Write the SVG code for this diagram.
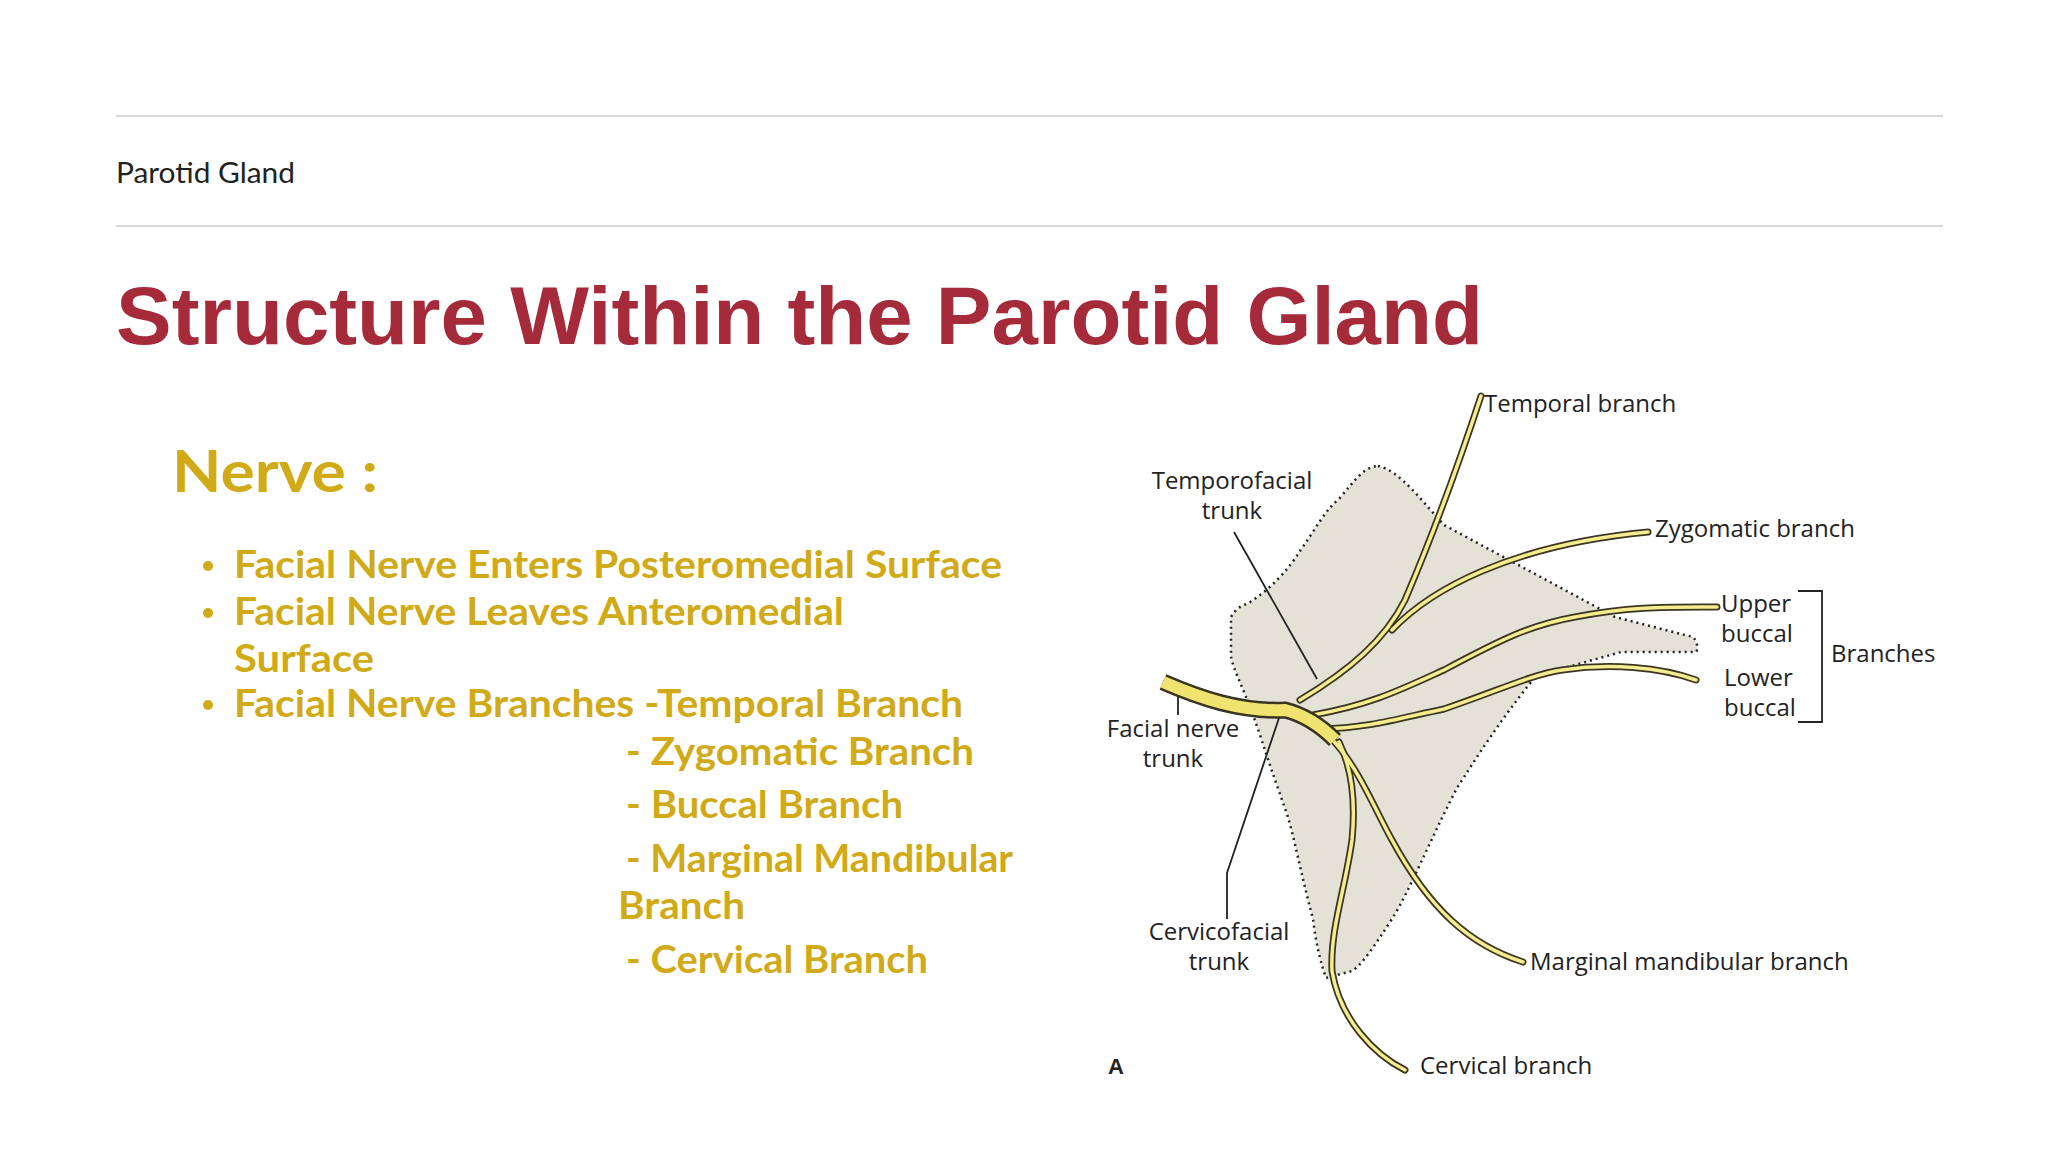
<svg xmlns="http://www.w3.org/2000/svg" width="2048" height="1152" viewBox="0 0 2048 1152">
<style>
.hdr{font-family:"Lato","Liberation Sans",sans-serif;font-size:28px;fill:#222}
.title{font-family:"Liberation Sans",sans-serif;font-weight:bold;font-size:82px;fill:#A52A3A}
.g{font-family:"Lato","Liberation Sans",sans-serif;font-weight:bold;fill:#D1AA17}
.b{font-size:38px}
.lbl{font-family:"Open Sans","Liberation Sans",sans-serif;font-size:24px;fill:#222}
.out{fill:none;stroke:#3a3520;stroke-width:7;stroke-linecap:round}
.in{fill:none;stroke:#F4EC8E;stroke-width:3.5;stroke-linecap:round}
.lead{fill:none;stroke:#222;stroke-width:1.8}
</style>
<rect width="2048" height="1152" fill="#fff"/>
<line x1="116" y1="116" x2="1943" y2="116" stroke="#ccc" stroke-width="1.5"/>
<text class="hdr" x="116" y="183" textLength="179" lengthAdjust="spacingAndGlyphs">Parotid Gland</text>
<line x1="116" y1="226" x2="1943" y2="226" stroke="#ccc" stroke-width="1.5"/>
<text class="title" x="116" y="344" textLength="1367" lengthAdjust="spacingAndGlyphs">Structure Within the Parotid Gland</text>
<g id="text">
<text class="g" x="172" y="492" font-size="58" textLength="206" lengthAdjust="spacingAndGlyphs">Nerve :</text>
<g class="g b">
<circle cx="208" cy="566" r="5" fill="#D1AA17"/><text x="234" y="578" textLength="768" lengthAdjust="spacingAndGlyphs">Facial Nerve Enters Posteromedial Surface</text>
<circle cx="208" cy="613" r="5" fill="#D1AA17"/><text x="234" y="625" textLength="610" lengthAdjust="spacingAndGlyphs">Facial Nerve Leaves Anteromedial</text>
<text x="234" y="672" textLength="140" lengthAdjust="spacingAndGlyphs">Surface</text>
<circle cx="208" cy="705" r="5" fill="#D1AA17"/><text x="234" y="717" textLength="729" lengthAdjust="spacingAndGlyphs">Facial Nerve Branches -Temporal Branch</text>
<text x="626" y="765" textLength="348" lengthAdjust="spacingAndGlyphs">- Zygomatic Branch</text>
<text x="626" y="818" textLength="277" lengthAdjust="spacingAndGlyphs">- Buccal Branch</text>
<text x="626" y="872" textLength="387" lengthAdjust="spacingAndGlyphs">- Marginal Mandibular</text>
<text x="618" y="919" textLength="127" lengthAdjust="spacingAndGlyphs">Branch</text>
<text x="626" y="973" textLength="302" lengthAdjust="spacingAndGlyphs">- Cervical Branch</text>
</g>
</g>
<g id="gland">
<path d="M1378,466 C1400,470 1425,505 1444,525 L1615,617 L1693,637 C1698,642 1698,650 1696,652 L1621,652 L1536,676 C1500,720 1475,760 1457,788 C1430,840 1410,890 1392,919 C1375,945 1362,965 1352,971 L1326,978 C1318,955 1315,935 1313,919 C1300,870 1295,840 1287,814 C1275,780 1268,760 1260,735 C1245,690 1233,670 1231,656 L1231,617 C1235,610 1240,606 1247,604 C1270,590 1288,570 1300,551 C1315,530 1325,510 1339,499 C1355,480 1365,466 1378,466 Z" fill="#E4E2D7" stroke="#222" stroke-width="2.5" stroke-dasharray="2 4"/>
</g>
<g id="connectors">
<path class="lead" d="M1234,532 L1317,679"/>
<path class="lead" d="M1280,715 L1227,873 L1227,919"/>
<path class="lead" d="M1178,696 L1178,715"/>
<path class="lead" d="M1798,591 L1822,591 L1822,722 L1798,722"/>
</g>
<g id="nerves">
<g class="out">
<path d="M1300,700 C1350,670 1385,640 1405,600 C1435,530 1460,460 1481,396"/>
<path d="M1392,630 C1430,590 1510,545 1648,532"/>
<path d="M1313,715 C1370,705 1400,690 1444,670 C1500,640 1530,625 1575,617 C1630,606 1670,607 1717,607"/>
<path d="M1319,729 C1370,728 1400,718 1444,709 C1500,690 1530,675 1562,670 C1610,663 1660,667 1696,680"/>
<path d="M1332,739 C1360,770 1375,810 1392,840 C1430,910 1470,945 1523,962"/>
<path d="M1339,742 C1355,775 1355,810 1352,840 C1345,890 1330,930 1332,971 C1340,1020 1375,1055 1405,1070"/>
</g>
<g class="in">
<path d="M1300,700 C1350,670 1385,640 1405,600 C1435,530 1460,460 1481,396"/>
<path d="M1392,630 C1430,590 1510,545 1648,532"/>
<path d="M1313,715 C1370,705 1400,690 1444,670 C1500,640 1530,625 1575,617 C1630,606 1670,607 1717,607"/>
<path d="M1319,729 C1370,728 1400,718 1444,709 C1500,690 1530,675 1562,670 C1610,663 1660,667 1696,680"/>
<path d="M1332,739 C1360,770 1375,810 1392,840 C1430,910 1470,945 1523,962"/>
<path d="M1339,742 C1355,775 1355,810 1352,840 C1345,890 1330,930 1332,971 C1340,1020 1375,1055 1405,1070"/>
</g>
<path d="M1163,682 C1200,698 1240,712 1285,710 C1305,715 1320,725 1335,740" fill="none" stroke="#3a3520" stroke-width="17" stroke-linecap="butt"/>
<path d="M1163,682 C1200,698 1240,712 1285,710 C1305,715 1320,725 1335,740" fill="none" stroke="#F1E370" stroke-width="12" stroke-linecap="butt"/>
</g>
<g id="labels" class="lbl">
<text x="1484" y="412">Temporal branch</text>
<text x="1232" y="489" text-anchor="middle">Temporofacial</text>
<text x="1232" y="519" text-anchor="middle">trunk</text>
<text x="1655" y="537">Zygomatic branch</text>
<text x="1721" y="612">Upper</text>
<text x="1721" y="642">buccal</text>
<text x="1831" y="662">Branches</text>
<text x="1724" y="686">Lower</text>
<text x="1724" y="716">buccal</text>
<text x="1173" y="737" text-anchor="middle">Facial nerve</text>
<text x="1173" y="767" text-anchor="middle">trunk</text>
<text x="1219" y="940" text-anchor="middle">Cervicofacial</text>
<text x="1219" y="970" text-anchor="middle">trunk</text>
<text x="1530" y="970">Marginal mandibular branch</text>
<text x="1420" y="1074">Cervical branch</text>
<text x="1108" y="1074" font-weight="bold" font-family="Liberation Sans,sans-serif" font-size="22">A</text>
</g>
</svg>
